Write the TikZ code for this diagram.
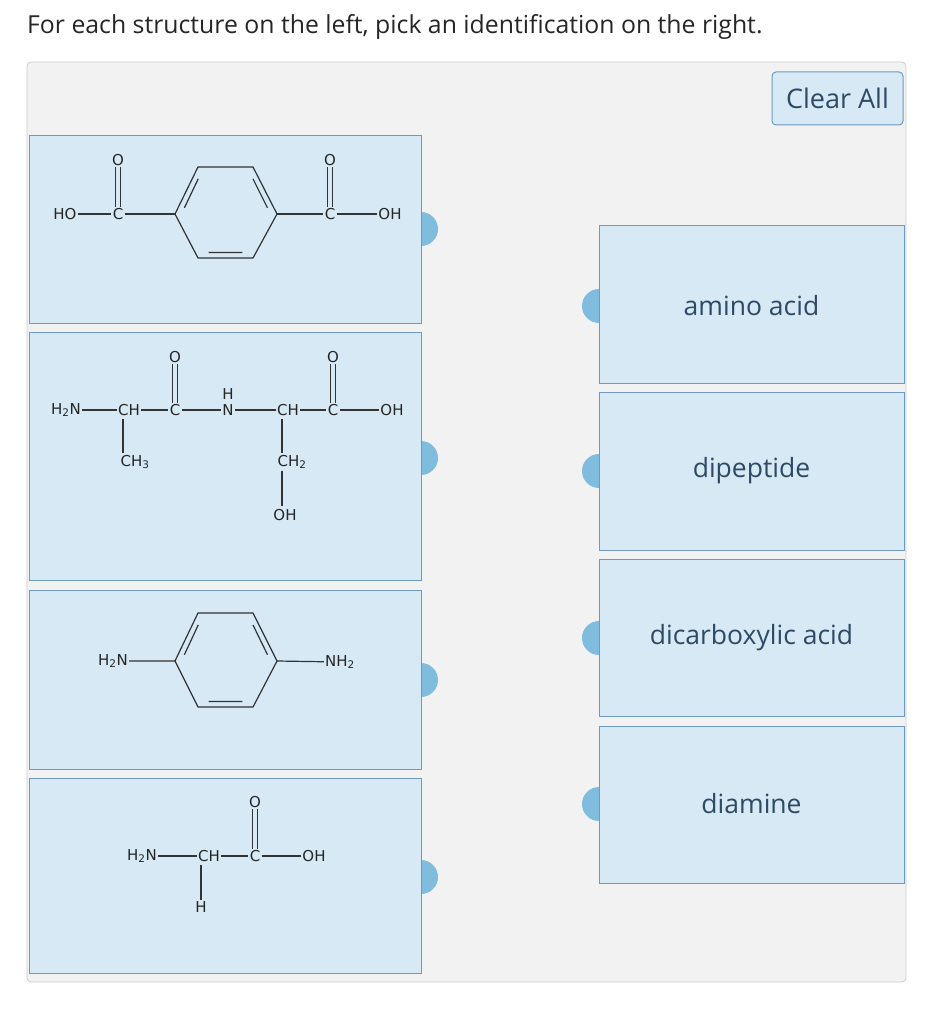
\documentclass[tikz,border=0pt]{standalone}
\usepackage{fontspec}
\setmainfont{Open Sans}
\newfontfamily\chemf{DejaVu Sans}
\usetikzlibrary{calc}
\definecolor{panelbg}{HTML}{F2F2F2}
\definecolor{panelbd}{HTML}{C8CCD0}
\definecolor{boxbg}{HTML}{D6E9F5}
\definecolor{boxbd}{HTML}{6D9AC0}
\definecolor{tabc}{HTML}{7FBCDE}
\definecolor{txt}{HTML}{2E4A66}
\begin{document}
\begin{tikzpicture}[x=1pt,y=-1pt,
  card/.style={fill=boxbg,draw=boxbd,line width=1pt},
  lbl/.style={font=\fontsize{26.5}{30}\selectfont,text=txt},
  atom/.style={font=\chemf\fontsize{15}{17}\selectfont,inner sep=1.2pt,text=black!85},
  bond/.style={draw=black!80,line width=1.2pt},
  tab/.style={fill=tabc,draw=none}]
\useasboundingbox (0,0) rectangle (938,1024);
\node[anchor=west,font=\fontsize{24.8}{28}\selectfont,text=black!85,inner sep=0pt] (title) at (27,27) {For each structure on the left, pick an identification on the right.};
\draw[fill=panelbg,draw=panelbd,rounded corners=4pt,line width=0.8pt] (27,62) rectangle (906,982);
\node[draw=boxbd,fill=boxbg,rounded corners=4pt,line width=1pt,minimum width=131pt,minimum height=53pt,font=\fontsize{27}{30}\selectfont,text=txt] (clear) at (837.5,98.5) {Clear All};
% left cards with tabs
\foreach \a/\b/\t in {136/323/229,332/580/458,590/769/680,778/973/877}{
  \fill[tab] (421,\t) circle[radius=17pt];
  \draw[card] (29,\a) rectangle (421,\b);
}
% right cards with tabs
\foreach \a/\b/\t/\s [count=\i] in {226/383/306/amino acid,392/550/471/dipeptide,559/716/638/dicarboxylic acid,726/883/804/diamine}{
  \fill[tab] (599,\t) circle[radius=17pt];
  \draw[card] (599,\a) rectangle (904,\b);
  \node[lbl] (r\i) at (751.5,\t) {\s};
}
% ---------- structure 1 ----------
\node[atom] (a1) at (65,214) {HO};
\node[atom] (a2) at (118,214) {C};
\node[atom] (a3) at (118,160) {O};
\coordinate (p1) at (175,214); \coordinate (p2) at (198,167); \coordinate (p3) at (253,167);
\coordinate (p4) at (277,214); \coordinate (p5) at (253,258); \coordinate (p6) at (198,258);
\coordinate (pc) at (226,214);
\node[atom] (a4) at (330,214) {C};
\node[atom] (a5) at (330,160) {O};
\node[atom] (a6) at (390,214) {OH};
\draw[bond] (a1)--(a2) (a2)--(p1) (p4)--(a4) (a4)--(a6);
\draw[bond] ([xshift=-2.5pt]a2.north)--([xshift=-2.5pt]a3.south) ([xshift=2.5pt]a2.north)--([xshift=2.5pt]a3.south);
\draw[bond] ([xshift=-2.5pt]a4.north)--([xshift=-2.5pt]a5.south) ([xshift=2.5pt]a4.north)--([xshift=2.5pt]a5.south);
\draw[bond,line join=round] (p1)--(p2)--(p3)--(p4)--(p5)--(p6)--cycle;
\foreach \u/\v in {p1/p2,p3/p4,p5/p6}{
  \draw[bond] ($($(\u)!.15!(\v)$)!6pt!(pc)$) -- ($($(\u)!.85!(\v)$)!6pt!(pc)$);
}
% ---------- structure 2 ----------
\node[atom] (b1) at (66,410) {H\textsubscript{2}N};
\node[atom] (b2) at (129,410) {CH};
\node[atom] (b3) at (175,410) {C};
\node[atom] (b4) at (175,357) {O};
\node[atom] (b5) at (228,410) {N};
\node[atom] (b5h) at (228,394) {H};
\node[atom] (b6) at (288,410) {CH};
\node[atom] (b7) at (333,410) {C};
\node[atom] (b8) at (333,357) {O};
\node[atom] (b9) at (392,410) {OH};
\node[atom] (b10) at (135,462) {CH\textsubscript{3}};
\node[atom] (b11) at (292,462) {CH\textsubscript{2}};
\node[atom] (b12) at (285,515) {OH};
\draw[bond] (b1)--(b2) (b2)--(b3) (b3)--(b5) (b5)--(b6) (b6)--(b7) (b7)--(b9);
\draw[bond] (123,419)--(123,453) (282,419)--(282,453) (282,471)--(282,506);
\draw[bond] ([xshift=-2.5pt]b3.north)--([xshift=-2.5pt]b4.south) ([xshift=2.5pt]b3.north)--([xshift=2.5pt]b4.south);
\draw[bond] ([xshift=-2.5pt]b7.north)--([xshift=-2.5pt]b8.south) ([xshift=2.5pt]b7.north)--([xshift=2.5pt]b8.south);
% ---------- structure 3 ----------
\node[atom] (c1) at (113,661) {H\textsubscript{2}N};
\coordinate (q1) at (175,661); \coordinate (q2) at (198,613); \coordinate (q3) at (253,613);
\coordinate (q4) at (277,661); \coordinate (q5) at (253,707); \coordinate (q6) at (198,707);
\coordinate (qc) at (226,661);
\node[atom] (c2) at (340,662) {NH\textsubscript{2}};
\draw[bond] (c1)--(q1) (q4)--(c2);
\draw[bond,line join=round] (q1)--(q2)--(q3)--(q4)--(q5)--(q6)--cycle;
\foreach \u/\v in {q1/q2,q3/q4,q5/q6}{
  \draw[bond] ($($(\u)!.15!(\v)$)!6pt!(qc)$) -- ($($(\u)!.85!(\v)$)!6pt!(qc)$);
}
% ---------- structure 4 ----------
\node[atom] (d1) at (142,856) {H\textsubscript{2}N};
\node[atom] (d2) at (209,856) {CH};
\node[atom] (d3) at (255,856) {C};
\node[atom] (d4) at (255,802) {O};
\node[atom] (d5) at (314,856) {OH};
\node[atom] (d6) at (201,907) {H};
\draw[bond] (d1)--(d2) (d2)--(d3) (d3)--(d5);
\draw[bond] (201,865)--(d6.north);
\draw[bond] ([xshift=-2.5pt]d3.north)--([xshift=-2.5pt]d4.south) ([xshift=2.5pt]d3.north)--([xshift=2.5pt]d4.south);
\end{tikzpicture}
\end{document}
